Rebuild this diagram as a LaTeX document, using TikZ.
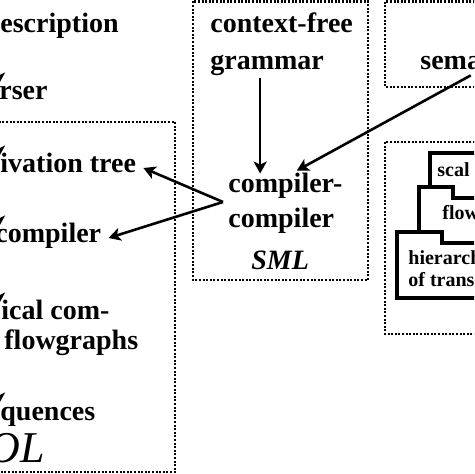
\documentclass[tikz,border=0pt]{standalone}
\usepackage{fontspec}
\setmainfont{Liberation Serif}
\usetikzlibrary{arrows.meta}
\tikzstyle{txt}=[anchor=base west,inner sep=0pt,text height=0.75em,text depth=0.25em,font=\fontsize{14}{16}\selectfont\bfseries]
\tikzstyle{sm}=[anchor=base west,inner sep=0pt,font=\fontsize{10}{12}\selectfont\bfseries]
\tikzstyle{frame}=[line width=1.4pt,dash pattern=on 1pt off 0.8pt]
\tikzstyle{stair}=[line width=1.6pt]
\tikzstyle{arr}=[line width=1.3pt,-{Stealth[length=6pt,width=6.5pt,inset=1.5pt]}]

\begin{document}
\begin{tikzpicture}[x=0.5pt,y=-0.5pt]
\useasboundingbox (0,0) rectangle (474,474);
\clip (0,0) rectangle (474,474);
\draw[frame] (-20,122) rectangle (175,472);
\draw[frame] (193,1.5) rectangle (368,280);
\draw[frame] (500,1.5) -- (385,1.5) -- (385,87) -- (500,87);
\draw[frame] (500,142) -- (385,142) -- (385,334) -- (500,334);
\node[txt] (desc) at (0,33) {escription};
\node[txt] (pars) at (-1,100) {rser};
\node[txt] (deriv) at (0,173) {ivation tree};
\node[txt] (comp) at (-5,243) {compiler};
\node[txt] (ical) at (1,320) {ical com-};
\node[txt] (flow) at (4,349) {flowgraphs};
\node[txt] (seq) at (0,420) {quences};
\node[anchor=base west,inner sep=0pt,font=\fontsize{22}{26}\selectfont\itshape] (ol) at (-12,462) {OL};
\coordinate (lx) at (-1.5,0);
\draw[arr] (desc.south -| lx) -- (pars.north -| lx);
\draw[arr] (pars.south -| lx) -- (deriv.north -| lx);
\draw[arr] (deriv.south -| lx) -- (comp.north -| lx);
\draw[arr] (comp.south -| lx) -- (ical.north -| lx);
\draw[arr] (flow.south -| lx) -- (seq.north -| lx);
\node[txt] (cfg) at (210,33) {context-free};
\node[txt] (gram) at (210,70) {grammar};
\node[txt] (cc1) at (228,193) {compiler-};
\node[txt] (cc2) at (228,228) {compiler};
\node[anchor=base west,inner sep=0pt,font=\fontsize{14}{16}\selectfont\bfseries\itshape] (sml) at (251,270) {SML};
\node[txt] (sema) at (420,70) {sema};
\coordinate (fork) at (223,202);
\draw[arr] ([xshift=-3.5pt,yshift=-1.5pt]gram.south) -- ([xshift=-3.5pt,yshift=2pt]gram.south |- cc1.north);
\draw[arr] ([xshift=10pt]sema.south) -- ([xshift=5.7pt,yshift=3.5pt]cc1.north);
\draw[arr] (fork) -- ([xshift=3.5pt]deriv.east);
\draw[arr] (fork) -- ([xshift=3.5pt]comp.east);
\draw[stair] (500,153) -- (430,153) -- (430,187);
\draw[stair] (500,198) -- (453,198) -- (453,187) -- (419,187) -- (419,232);
\draw[stair] (500,243) -- (442,243) -- (442,232) -- (397,232) -- (397,298) -- (500,298);
\node[sm] (scal) at (437,177) {scal};
\node[sm] (flw) at (442,220) {flow};
\node[sm] (hier) at (408,265) {hierarch};
\node[sm] (trans) at (408,287) {of transi};
\end{tikzpicture}
\end{document}
